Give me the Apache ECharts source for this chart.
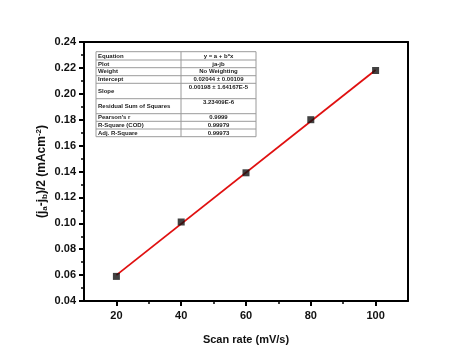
<!DOCTYPE html>
<html><head><meta charset="utf-8">
<script src="https://cdn.jsdelivr.net/npm/echarts@6/dist/echarts.min.js"></script>
<style>html,body{margin:0;padding:0;background:#fff}#c{width:474px;height:363px}</style>
</head><body><div id="c"></div>
<script>
const scanRates = [20, 40, 60, 80, 100];
const currentValues = [0.059, 0.101, 0.139, 0.180, 0.218];
const fitX = [20, 100];
const fitY = [0.0600, 0.2184];
const xTickLabels = [20, 40, 60, 80, 100];
const xMinorTicks = [30, 50, 70, 90];
const tableLabels = ['Equation', 'Plot', 'Weight', 'Intercept', 'Slope', 'Residual Sum of Squares', "Pearson's r", 'R-Square (COD)', 'Adj. R-Square'];
const tableValues = ['y = a + b*x', 'ja-jb', 'No Weighting', '0.02044 \u00b1 0.00109', '0.00198 \u00b1 1.64167E-5', '3.23409E-6', '0.9999', '0.99979', '0.99973'];

const chart = echarts.init(document.getElementById('c'));
const F = 'Arial, "Liberation Sans", sans-serif';

// table layout
const rowH = [8.3, 7.7, 8, 7.6, 15.4, 15, 7.6, 7.7, 7.7];
const tx0 = 96, tx1 = 181, tx2 = 256, ty0 = 51.7;
const tableEls = [];
let y = ty0;
const tableTotal = rowH.reduce((a, b) => a + b, 0);
tableEls.push({type: 'rect', shape: {x: tx0, y: ty0, width: tx2 - tx0, height: tableTotal}, style: {fill: '#fff', stroke: '#9a9a9a', lineWidth: 1}});
tableEls.push({type: 'line', shape: {x1: tx1, y1: ty0, x2: tx1, y2: ty0 + tableTotal}, style: {stroke: '#9a9a9a', lineWidth: 1}});
tableLabels.forEach((lab, i) => {
  const h = rowH[i];
  if (i > 0) tableEls.push({type: 'line', shape: {x1: tx0, y1: y, x2: tx2, y2: y}, style: {stroke: '#9a9a9a', lineWidth: 1}});
  tableEls.push({type: 'text', style: {x: tx0 + 2, y: y + h / 2, text: lab, fill: '#222', font: 'bold 6px ' + F, textVerticalAlign: 'middle', textAlign: 'left'}});
  const tall = h > 10;
  tableEls.push({type: 'text', style: {x: (tx1 + tx2) / 2, y: tall ? y + 4 : y + h / 2, text: tableValues[i], fill: '#222', font: 'bold 6px ' + F, textVerticalAlign: 'middle', textAlign: 'center'}});
  y += h;
});

chart.setOption({
  animation: false,
  backgroundColor: '#fff',
  grid: {left: 84, right: 66, top: 42, bottom: 62},
  xAxis: [{
    type: 'value', min: 10, max: 110, interval: 10, position: 'bottom',
    name: 'Scan rate (mV/s)', nameLocation: 'middle', nameGap: 33,
    nameTextStyle: {fontFamily: F, fontWeight: 'bold', fontSize: 11, color: '#111'},
    axisLine: {show: true, lineStyle: {color: '#000', width: 2}},
    axisTick: {show: true, customValues: xTickLabels, length: 5, lineStyle: {color: '#000', width: 2}},
    axisLabel: {customValues: xTickLabels, fontFamily: F, fontWeight: 'bold', fontSize: 11, color: '#111', margin: 9},
    splitLine: {show: false}
  }, {
    type: 'value', min: 10, max: 110, interval: 10, position: 'bottom', gridIndex: 0,
    axisLine: {show: false},
    axisTick: {show: true, customValues: xMinorTicks, length: 3, lineStyle: {color: '#000', width: 1.5}},
    axisLabel: {show: false}, splitLine: {show: false}
  }, {
    type: 'value', min: 10, max: 110, position: 'top',
    axisLine: {show: true, lineStyle: {color: '#000', width: 2}},
    axisTick: {show: false}, axisLabel: {show: false}, splitLine: {show: false}
  }],
  yAxis: [{
    type: 'value', min: 0.04, max: 0.24, interval: 0.02, position: 'left',
    name: '{t|(j}{s|a}{t|-j}{s|b}{t|)/2 (mAcm}{p|-2}{t|)}', nameLocation: 'middle', nameGap: 35, nameRotate: 90,
    nameMoveOverlap: false,
    nameTextStyle: {
      rich: {
        t: {fontFamily: F, fontWeight: 'bold', fontSize: 12, color: '#111', verticalAlign: 'middle'},
        s: {fontFamily: F, fontWeight: 'bold', fontSize: 8, color: '#111', verticalAlign: 'bottom', padding: [6, 0, 0, 0]},
        p: {fontFamily: F, fontWeight: 'bold', fontSize: 8, color: '#111', verticalAlign: 'top', padding: [0, 0, 6, 0]}
      }
    },
    axisLine: {show: true, lineStyle: {color: '#000', width: 2}},
    axisTick: {show: true, length: 5, lineStyle: {color: '#000', width: 2}},
    minorTick: {show: true, splitNumber: 2, length: 3, lineStyle: {color: '#000', width: 1.5}},
    axisLabel: {fontFamily: F, fontWeight: 'bold', fontSize: 11, color: '#111', margin: 8, formatter: v => v.toFixed(2)},
    splitLine: {show: false}
  }, {
    type: 'value', min: 0.04, max: 0.24, position: 'right',
    axisLine: {show: true, lineStyle: {color: '#000', width: 2}},
    axisTick: {show: false}, axisLabel: {show: false}, splitLine: {show: false}
  }],
  series: [{
    type: 'line', data: fitX.map((x, i) => [x, fitY[i]]), symbol: 'none',
    lineStyle: {color: '#e01010', width: 1.8}, z: 2
  }, {
    type: 'scatter', data: scanRates.map((x, i) => [x, currentValues[i]]), symbol: 'rect', symbolSize: 7,
    itemStyle: {color: '#111'}, z: 3
  }],
  graphic: tableEls
});
</script></body></html>
